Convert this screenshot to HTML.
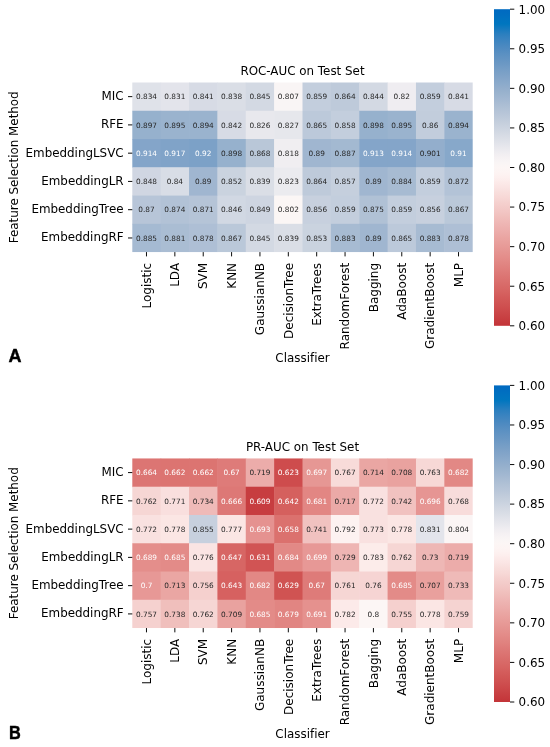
<!DOCTYPE html>
<html><head><meta charset="utf-8"><title>AUC heatmaps</title>
<style>
html,body{margin:0;padding:0;background:#fff}
svg{display:block;font-family:"DejaVu Sans","Liberation Sans",sans-serif;font-variant-ligatures:none}
</style></head><body>
<svg width="550" height="747" viewBox="0 0 550 747">
<defs><linearGradient id="cb" x1="0" y1="0" x2="0" y2="1"><stop offset="0.0000" stop-color="#006ac1"/><stop offset="0.0156" stop-color="#006dc0"/><stop offset="0.0312" stop-color="#0072c0"/><stop offset="0.0469" stop-color="#0076bf"/><stop offset="0.0625" stop-color="#167abf"/><stop offset="0.0781" stop-color="#2b7fbf"/><stop offset="0.0938" stop-color="#3983c0"/><stop offset="0.1094" stop-color="#4587c0"/><stop offset="0.1250" stop-color="#508bc1"/><stop offset="0.1406" stop-color="#5a90c2"/><stop offset="0.1562" stop-color="#6394c3"/><stop offset="0.1719" stop-color="#6b98c4"/><stop offset="0.1875" stop-color="#749dc6"/><stop offset="0.2031" stop-color="#7ca1c7"/><stop offset="0.2188" stop-color="#84a5c9"/><stop offset="0.2344" stop-color="#8baacb"/><stop offset="0.2500" stop-color="#93aecc"/><stop offset="0.2656" stop-color="#9ab3ce"/><stop offset="0.2812" stop-color="#a1b7d1"/><stop offset="0.2969" stop-color="#a9bcd3"/><stop offset="0.3125" stop-color="#b0c1d5"/><stop offset="0.3281" stop-color="#b7c5d8"/><stop offset="0.3438" stop-color="#becada"/><stop offset="0.3594" stop-color="#c5cfdd"/><stop offset="0.3750" stop-color="#ccd4e0"/><stop offset="0.3906" stop-color="#d3d9e3"/><stop offset="0.4062" stop-color="#dadee6"/><stop offset="0.4219" stop-color="#e1e3ea"/><stop offset="0.4375" stop-color="#e8e8ed"/><stop offset="0.4531" stop-color="#efedf1"/><stop offset="0.4688" stop-color="#f5f1f3"/><stop offset="0.4844" stop-color="#f9f5f5"/><stop offset="0.5000" stop-color="#fcf6f5"/><stop offset="0.5156" stop-color="#fdf4f3"/><stop offset="0.5312" stop-color="#fdf0ef"/><stop offset="0.5469" stop-color="#fceae9"/><stop offset="0.5625" stop-color="#fae4e3"/><stop offset="0.5781" stop-color="#f8dedc"/><stop offset="0.5938" stop-color="#f7d8d6"/><stop offset="0.6094" stop-color="#f5d1cf"/><stop offset="0.6250" stop-color="#f3cbc9"/><stop offset="0.6406" stop-color="#f2c5c3"/><stop offset="0.6562" stop-color="#f0bfbc"/><stop offset="0.6719" stop-color="#efb8b6"/><stop offset="0.6875" stop-color="#edb2b0"/><stop offset="0.7031" stop-color="#ecacaa"/><stop offset="0.7188" stop-color="#eaa6a3"/><stop offset="0.7344" stop-color="#e9a09d"/><stop offset="0.7500" stop-color="#e79a97"/><stop offset="0.7656" stop-color="#e59491"/><stop offset="0.7812" stop-color="#e48e8b"/><stop offset="0.7969" stop-color="#e28885"/><stop offset="0.8125" stop-color="#e0827f"/><stop offset="0.8281" stop-color="#de7b79"/><stop offset="0.8438" stop-color="#dc7573"/><stop offset="0.8594" stop-color="#da6f6d"/><stop offset="0.8750" stop-color="#d86967"/><stop offset="0.8906" stop-color="#d66361"/><stop offset="0.9062" stop-color="#d45c5b"/><stop offset="0.9219" stop-color="#d15655"/><stop offset="0.9375" stop-color="#cf5050"/><stop offset="0.9531" stop-color="#cc494a"/><stop offset="0.9688" stop-color="#c94244"/><stop offset="0.9844" stop-color="#c63b3e"/><stop offset="1.0000" stop-color="#c33438"/></linearGradient></defs>
<rect width="550" height="747" fill="#fff"/>
<g>
<rect x="132.30" y="82.50" width="28.87" height="28.77" fill="#dfe2e9"/>
<rect x="160.67" y="82.50" width="28.87" height="28.77" fill="#e3e4eb"/>
<rect x="189.03" y="82.50" width="28.87" height="28.77" fill="#d7dbe5"/>
<rect x="217.40" y="82.50" width="28.87" height="28.77" fill="#dadee6"/>
<rect x="245.77" y="82.50" width="28.87" height="28.77" fill="#d3d9e3"/>
<rect x="274.13" y="82.50" width="28.87" height="28.77" fill="#f9f5f5"/>
<rect x="302.50" y="82.50" width="28.87" height="28.77" fill="#c3cedd"/>
<rect x="330.87" y="82.50" width="28.87" height="28.77" fill="#becada"/>
<rect x="359.23" y="82.50" width="28.87" height="28.77" fill="#d3d9e3"/>
<rect x="387.60" y="82.50" width="28.87" height="28.77" fill="#efedf1"/>
<rect x="415.97" y="82.50" width="28.87" height="28.77" fill="#c3cedd"/>
<rect x="444.33" y="82.50" width="28.87" height="28.77" fill="#d7dbe5"/>
<rect x="132.30" y="110.77" width="28.87" height="28.77" fill="#96b1cd"/>
<rect x="160.67" y="110.77" width="28.87" height="28.77" fill="#9ab3ce"/>
<rect x="189.03" y="110.77" width="28.87" height="28.77" fill="#9ab3ce"/>
<rect x="217.40" y="110.77" width="28.87" height="28.77" fill="#d7dbe5"/>
<rect x="245.77" y="110.77" width="28.87" height="28.77" fill="#e8e8ed"/>
<rect x="274.13" y="110.77" width="28.87" height="28.77" fill="#e6e7ec"/>
<rect x="302.50" y="110.77" width="28.87" height="28.77" fill="#bcc9da"/>
<rect x="330.87" y="110.77" width="28.87" height="28.77" fill="#c3cedd"/>
<rect x="359.23" y="110.77" width="28.87" height="28.77" fill="#96b1cd"/>
<rect x="387.60" y="110.77" width="28.87" height="28.77" fill="#9ab3ce"/>
<rect x="415.97" y="110.77" width="28.87" height="28.77" fill="#c2cddc"/>
<rect x="444.33" y="110.77" width="28.87" height="28.77" fill="#9ab3ce"/>
<rect x="132.30" y="139.03" width="28.87" height="28.77" fill="#84a5c9"/>
<rect x="160.67" y="139.03" width="28.87" height="28.77" fill="#80a3c8"/>
<rect x="189.03" y="139.03" width="28.87" height="28.77" fill="#7ca1c7"/>
<rect x="217.40" y="139.03" width="28.87" height="28.77" fill="#96b1cd"/>
<rect x="245.77" y="139.03" width="28.87" height="28.77" fill="#b9c7d8"/>
<rect x="274.13" y="139.03" width="28.87" height="28.77" fill="#f0eef1"/>
<rect x="302.50" y="139.03" width="28.87" height="28.77" fill="#a0b6d0"/>
<rect x="330.87" y="139.03" width="28.87" height="28.77" fill="#a3b9d1"/>
<rect x="359.23" y="139.03" width="28.87" height="28.77" fill="#84a5c9"/>
<rect x="387.60" y="139.03" width="28.87" height="28.77" fill="#84a5c9"/>
<rect x="415.97" y="139.03" width="28.87" height="28.77" fill="#93aecc"/>
<rect x="444.33" y="139.03" width="28.87" height="28.77" fill="#87a8ca"/>
<rect x="132.30" y="167.30" width="28.87" height="28.77" fill="#d0d6e2"/>
<rect x="160.67" y="167.30" width="28.87" height="28.77" fill="#d8dde6"/>
<rect x="189.03" y="167.30" width="28.87" height="28.77" fill="#a0b6d0"/>
<rect x="217.40" y="167.30" width="28.87" height="28.77" fill="#cad3df"/>
<rect x="245.77" y="167.30" width="28.87" height="28.77" fill="#dadee6"/>
<rect x="274.13" y="167.30" width="28.87" height="28.77" fill="#ebebef"/>
<rect x="302.50" y="167.30" width="28.87" height="28.77" fill="#becada"/>
<rect x="330.87" y="167.30" width="28.87" height="28.77" fill="#c5cfdd"/>
<rect x="359.23" y="167.30" width="28.87" height="28.77" fill="#a0b6d0"/>
<rect x="387.60" y="167.30" width="28.87" height="28.77" fill="#a7bbd2"/>
<rect x="415.97" y="167.30" width="28.87" height="28.77" fill="#c3cedd"/>
<rect x="444.33" y="167.30" width="28.87" height="28.77" fill="#b3c3d7"/>
<rect x="132.30" y="195.57" width="28.87" height="28.77" fill="#b7c5d8"/>
<rect x="160.67" y="195.57" width="28.87" height="28.77" fill="#b2c2d6"/>
<rect x="189.03" y="195.57" width="28.87" height="28.77" fill="#b5c4d7"/>
<rect x="217.40" y="195.57" width="28.87" height="28.77" fill="#d1d8e3"/>
<rect x="245.77" y="195.57" width="28.87" height="28.77" fill="#ced5e1"/>
<rect x="274.13" y="195.57" width="28.87" height="28.77" fill="#fbf6f5"/>
<rect x="302.50" y="195.57" width="28.87" height="28.77" fill="#c7d0de"/>
<rect x="330.87" y="195.57" width="28.87" height="28.77" fill="#c3cedd"/>
<rect x="359.23" y="195.57" width="28.87" height="28.77" fill="#b0c1d5"/>
<rect x="387.60" y="195.57" width="28.87" height="28.77" fill="#c3cedd"/>
<rect x="415.97" y="195.57" width="28.87" height="28.77" fill="#c7d0de"/>
<rect x="444.33" y="195.57" width="28.87" height="28.77" fill="#bac8d9"/>
<rect x="132.30" y="223.83" width="28.87" height="28.77" fill="#a5bad2"/>
<rect x="160.67" y="223.83" width="28.87" height="28.77" fill="#aabdd3"/>
<rect x="189.03" y="223.83" width="28.87" height="28.77" fill="#aebfd5"/>
<rect x="217.40" y="223.83" width="28.87" height="28.77" fill="#bac8d9"/>
<rect x="245.77" y="223.83" width="28.87" height="28.77" fill="#d3d9e3"/>
<rect x="274.13" y="223.83" width="28.87" height="28.77" fill="#dadee6"/>
<rect x="302.50" y="223.83" width="28.87" height="28.77" fill="#cad3df"/>
<rect x="330.87" y="223.83" width="28.87" height="28.77" fill="#a7bbd2"/>
<rect x="359.23" y="223.83" width="28.87" height="28.77" fill="#a0b6d0"/>
<rect x="387.60" y="223.83" width="28.87" height="28.77" fill="#bcc9da"/>
<rect x="415.97" y="223.83" width="28.87" height="28.77" fill="#a7bbd2"/>
<rect x="444.33" y="223.83" width="28.87" height="28.77" fill="#aebfd5"/>
</g>
<rect x="472.70" y="81.50" width="2" height="172.60" fill="#fff"/>
<rect x="131.30" y="252.10" width="343.40" height="2" fill="#fff"/>
<g font-size="7.35" text-anchor="middle">
<text x="146.48" y="99.32" fill="#262626">0.834</text>
<text x="174.85" y="99.32" fill="#262626">0.831</text>
<text x="203.22" y="99.32" fill="#262626">0.841</text>
<text x="231.58" y="99.32" fill="#262626">0.838</text>
<text x="259.95" y="99.32" fill="#262626">0.845</text>
<text x="288.32" y="99.32" fill="#262626">0.807</text>
<text x="316.68" y="99.32" fill="#262626">0.859</text>
<text x="345.05" y="99.32" fill="#262626">0.864</text>
<text x="373.42" y="99.32" fill="#262626">0.844</text>
<text x="401.78" y="99.32" fill="#262626">0.82</text>
<text x="430.15" y="99.32" fill="#262626">0.859</text>
<text x="458.52" y="99.32" fill="#262626">0.841</text>
<text x="146.48" y="127.58" fill="#262626">0.897</text>
<text x="174.85" y="127.58" fill="#262626">0.895</text>
<text x="203.22" y="127.58" fill="#262626">0.894</text>
<text x="231.58" y="127.58" fill="#262626">0.842</text>
<text x="259.95" y="127.58" fill="#262626">0.826</text>
<text x="288.32" y="127.58" fill="#262626">0.827</text>
<text x="316.68" y="127.58" fill="#262626">0.865</text>
<text x="345.05" y="127.58" fill="#262626">0.858</text>
<text x="373.42" y="127.58" fill="#262626">0.898</text>
<text x="401.78" y="127.58" fill="#262626">0.895</text>
<text x="430.15" y="127.58" fill="#262626">0.86</text>
<text x="458.52" y="127.58" fill="#262626">0.894</text>
<text x="146.48" y="155.85" fill="#fff">0.914</text>
<text x="174.85" y="155.85" fill="#fff">0.917</text>
<text x="203.22" y="155.85" fill="#fff">0.92</text>
<text x="231.58" y="155.85" fill="#262626">0.898</text>
<text x="259.95" y="155.85" fill="#262626">0.868</text>
<text x="288.32" y="155.85" fill="#262626">0.818</text>
<text x="316.68" y="155.85" fill="#262626">0.89</text>
<text x="345.05" y="155.85" fill="#262626">0.887</text>
<text x="373.42" y="155.85" fill="#fff">0.913</text>
<text x="401.78" y="155.85" fill="#fff">0.914</text>
<text x="430.15" y="155.85" fill="#262626">0.901</text>
<text x="458.52" y="155.85" fill="#fff">0.91</text>
<text x="146.48" y="184.12" fill="#262626">0.848</text>
<text x="174.85" y="184.12" fill="#262626">0.84</text>
<text x="203.22" y="184.12" fill="#262626">0.89</text>
<text x="231.58" y="184.12" fill="#262626">0.852</text>
<text x="259.95" y="184.12" fill="#262626">0.839</text>
<text x="288.32" y="184.12" fill="#262626">0.823</text>
<text x="316.68" y="184.12" fill="#262626">0.864</text>
<text x="345.05" y="184.12" fill="#262626">0.857</text>
<text x="373.42" y="184.12" fill="#262626">0.89</text>
<text x="401.78" y="184.12" fill="#262626">0.884</text>
<text x="430.15" y="184.12" fill="#262626">0.859</text>
<text x="458.52" y="184.12" fill="#262626">0.872</text>
<text x="146.48" y="212.38" fill="#262626">0.87</text>
<text x="174.85" y="212.38" fill="#262626">0.874</text>
<text x="203.22" y="212.38" fill="#262626">0.871</text>
<text x="231.58" y="212.38" fill="#262626">0.846</text>
<text x="259.95" y="212.38" fill="#262626">0.849</text>
<text x="288.32" y="212.38" fill="#262626">0.802</text>
<text x="316.68" y="212.38" fill="#262626">0.856</text>
<text x="345.05" y="212.38" fill="#262626">0.859</text>
<text x="373.42" y="212.38" fill="#262626">0.875</text>
<text x="401.78" y="212.38" fill="#262626">0.859</text>
<text x="430.15" y="212.38" fill="#262626">0.856</text>
<text x="458.52" y="212.38" fill="#262626">0.867</text>
<text x="146.48" y="240.65" fill="#262626">0.885</text>
<text x="174.85" y="240.65" fill="#262626">0.881</text>
<text x="203.22" y="240.65" fill="#262626">0.878</text>
<text x="231.58" y="240.65" fill="#262626">0.867</text>
<text x="259.95" y="240.65" fill="#262626">0.845</text>
<text x="288.32" y="240.65" fill="#262626">0.839</text>
<text x="316.68" y="240.65" fill="#262626">0.853</text>
<text x="345.05" y="240.65" fill="#262626">0.883</text>
<text x="373.42" y="240.65" fill="#262626">0.89</text>
<text x="401.78" y="240.65" fill="#262626">0.865</text>
<text x="430.15" y="240.65" fill="#262626">0.883</text>
<text x="458.52" y="240.65" fill="#262626">0.878</text>
</g>
<path d="M128.00 96.63H132.30M128.00 124.90H132.30M128.00 153.17H132.30M128.00 181.43H132.30M128.00 209.70H132.30M128.00 237.97H132.30M146.48 252.10v4.30M174.85 252.10v4.30M203.22 252.10v4.30M231.58 252.10v4.30M259.95 252.10v4.30M288.32 252.10v4.30M316.68 252.10v4.30M345.05 252.10v4.30M373.42 252.10v4.30M401.78 252.10v4.30M430.15 252.10v4.30M458.52 252.10v4.30" stroke="#000" stroke-width="0.96" fill="none"/>
<g font-size="11.9" text-anchor="end">
<text x="123.60" y="100.08">MIC</text>
<text x="123.60" y="128.34">RFE</text>
<text x="123.60" y="156.61">EmbeddingLSVC</text>
<text x="123.60" y="184.88">EmbeddingLR</text>
<text x="123.60" y="213.14">EmbeddingTree</text>
<text x="123.60" y="241.41">EmbeddingRF</text>
</g>
<g font-size="12" text-anchor="end">
<text transform="translate(150.68 262.90) rotate(-90)">Logistic</text>
<text transform="translate(179.05 262.90) rotate(-90)">LDA</text>
<text transform="translate(207.42 262.90) rotate(-90)">SVM</text>
<text transform="translate(235.78 262.90) rotate(-90)">KNN</text>
<text transform="translate(264.15 262.90) rotate(-90)">GaussianNB</text>
<text transform="translate(292.52 262.90) rotate(-90)">DecisionTree</text>
<text transform="translate(320.88 262.90) rotate(-90)">ExtraTrees</text>
<text transform="translate(349.25 262.90) rotate(-90)">RandomForest</text>
<text transform="translate(377.62 262.90) rotate(-90)">Bagging</text>
<text transform="translate(405.98 262.90) rotate(-90)">AdaBoost</text>
<text transform="translate(434.35 262.90) rotate(-90)">GradientBoost</text>
<text transform="translate(462.72 262.90) rotate(-90)">MLP</text>
</g>
<text font-size="11.9" text-anchor="middle" transform="translate(18.40 167.30) rotate(-90)">Feature Selection Method</text>
<text font-size="11.9" text-anchor="middle" x="302.50" y="361.80">Classifier</text>
<text font-size="11.9" text-anchor="middle" x="302.50" y="75.20">ROC-AUC on Test Set</text>
<rect x="494.00" y="9.20" width="16.00" height="316.60" fill="url(#cb)"/>
<g font-size="11.9">
<text x="518.60" y="13.54">1.00</text>
<text x="518.60" y="53.12">0.95</text>
<text x="518.60" y="92.69">0.90</text>
<text x="518.60" y="132.27">0.85</text>
<text x="518.60" y="171.84">0.80</text>
<text x="518.60" y="211.42">0.75</text>
<text x="518.60" y="250.99">0.70</text>
<text x="518.60" y="290.57">0.65</text>
<text x="518.60" y="330.14">0.60</text>
</g>
<path d="M510.00 9.20h4.30M510.00 48.78h4.30M510.00 88.35h4.30M510.00 127.93h4.30M510.00 167.50h4.30M510.00 207.07h4.30M510.00 246.65h4.30M510.00 286.23h4.30M510.00 325.80h4.30" stroke="#000" stroke-width="0.96" fill="none"/>
<text transform="translate(8.6 361.9) scale(0.95 1)" font-family="'Liberation Sans', sans-serif" font-weight="bold" font-size="19.0" fill="#000" stroke="#000" stroke-width="0.45" stroke-linejoin="round">A</text>
<g>
<rect x="132.30" y="458.45" width="28.87" height="28.77" fill="#dc7573"/>
<rect x="160.67" y="458.45" width="28.87" height="28.77" fill="#dc7471"/>
<rect x="189.03" y="458.45" width="28.87" height="28.77" fill="#dc7471"/>
<rect x="217.40" y="458.45" width="28.87" height="28.77" fill="#de7b79"/>
<rect x="245.77" y="458.45" width="28.87" height="28.77" fill="#ecacaa"/>
<rect x="274.13" y="458.45" width="28.87" height="28.77" fill="#ce4c4d"/>
<rect x="302.50" y="458.45" width="28.87" height="28.77" fill="#e69794"/>
<rect x="330.87" y="458.45" width="28.87" height="28.77" fill="#f8dbd9"/>
<rect x="359.23" y="458.45" width="28.87" height="28.77" fill="#eaa6a3"/>
<rect x="387.60" y="458.45" width="28.87" height="28.77" fill="#e9a29f"/>
<rect x="415.97" y="458.45" width="28.87" height="28.77" fill="#f7d8d6"/>
<rect x="444.33" y="458.45" width="28.87" height="28.77" fill="#e28885"/>
<rect x="132.30" y="486.72" width="28.87" height="28.77" fill="#f6d6d4"/>
<rect x="160.67" y="486.72" width="28.87" height="28.77" fill="#f9dfde"/>
<rect x="189.03" y="486.72" width="28.87" height="28.77" fill="#efbab8"/>
<rect x="217.40" y="486.72" width="28.87" height="28.77" fill="#dd7876"/>
<rect x="245.77" y="486.72" width="28.87" height="28.77" fill="#c73d40"/>
<rect x="274.13" y="486.72" width="28.87" height="28.77" fill="#d5605e"/>
<rect x="302.50" y="486.72" width="28.87" height="28.77" fill="#e28683"/>
<rect x="330.87" y="486.72" width="28.87" height="28.77" fill="#eba9a7"/>
<rect x="359.23" y="486.72" width="28.87" height="28.77" fill="#f9e1e0"/>
<rect x="387.60" y="486.72" width="28.87" height="28.77" fill="#f1c2c0"/>
<rect x="415.97" y="486.72" width="28.87" height="28.77" fill="#e69593"/>
<rect x="444.33" y="486.72" width="28.87" height="28.77" fill="#f8dcdb"/>
<rect x="132.30" y="514.98" width="28.87" height="28.77" fill="#f9e1e0"/>
<rect x="160.67" y="514.98" width="28.87" height="28.77" fill="#fbe6e4"/>
<rect x="189.03" y="514.98" width="28.87" height="28.77" fill="#c7d0de"/>
<rect x="217.40" y="514.98" width="28.87" height="28.77" fill="#fbe6e4"/>
<rect x="245.77" y="514.98" width="28.87" height="28.77" fill="#e59290"/>
<rect x="274.13" y="514.98" width="28.87" height="28.77" fill="#db716e"/>
<rect x="302.50" y="514.98" width="28.87" height="28.77" fill="#f1c2c0"/>
<rect x="330.87" y="514.98" width="28.87" height="28.77" fill="#fdf2f1"/>
<rect x="359.23" y="514.98" width="28.87" height="28.77" fill="#f9e1e0"/>
<rect x="387.60" y="514.98" width="28.87" height="28.77" fill="#fbe6e4"/>
<rect x="415.97" y="514.98" width="28.87" height="28.77" fill="#e3e4eb"/>
<rect x="444.33" y="514.98" width="28.87" height="28.77" fill="#fbf5f5"/>
<rect x="132.30" y="543.25" width="28.87" height="28.77" fill="#e48e8b"/>
<rect x="160.67" y="543.25" width="28.87" height="28.77" fill="#e38b88"/>
<rect x="189.03" y="543.25" width="28.87" height="28.77" fill="#fae4e3"/>
<rect x="217.40" y="543.25" width="28.87" height="28.77" fill="#d76664"/>
<rect x="245.77" y="543.25" width="28.87" height="28.77" fill="#d15454"/>
<rect x="274.13" y="543.25" width="28.87" height="28.77" fill="#e28986"/>
<rect x="302.50" y="543.25" width="28.87" height="28.77" fill="#e79896"/>
<rect x="330.87" y="543.25" width="28.87" height="28.77" fill="#eeb5b3"/>
<rect x="359.23" y="543.25" width="28.87" height="28.77" fill="#fcecea"/>
<rect x="387.60" y="543.25" width="28.87" height="28.77" fill="#f6d6d4"/>
<rect x="415.97" y="543.25" width="28.87" height="28.77" fill="#eeb7b5"/>
<rect x="444.33" y="543.25" width="28.87" height="28.77" fill="#ecacaa"/>
<rect x="132.30" y="571.52" width="28.87" height="28.77" fill="#e79896"/>
<rect x="160.67" y="571.52" width="28.87" height="28.77" fill="#eaa6a3"/>
<rect x="189.03" y="571.52" width="28.87" height="28.77" fill="#f5d0ce"/>
<rect x="217.40" y="571.52" width="28.87" height="28.77" fill="#d66160"/>
<rect x="245.77" y="571.52" width="28.87" height="28.77" fill="#e28885"/>
<rect x="274.13" y="571.52" width="28.87" height="28.77" fill="#d05352"/>
<rect x="302.50" y="571.52" width="28.87" height="28.77" fill="#de7b79"/>
<rect x="330.87" y="571.52" width="28.87" height="28.77" fill="#f6d6d4"/>
<rect x="359.23" y="571.52" width="28.87" height="28.77" fill="#f6d4d3"/>
<rect x="387.60" y="571.52" width="28.87" height="28.77" fill="#e38b88"/>
<rect x="415.97" y="571.52" width="28.87" height="28.77" fill="#e9a09d"/>
<rect x="444.33" y="571.52" width="28.87" height="28.77" fill="#efbab8"/>
<rect x="132.30" y="599.78" width="28.87" height="28.77" fill="#f5d1cf"/>
<rect x="160.67" y="599.78" width="28.87" height="28.77" fill="#f0bfbc"/>
<rect x="189.03" y="599.78" width="28.87" height="28.77" fill="#f6d6d4"/>
<rect x="217.40" y="599.78" width="28.87" height="28.77" fill="#e9a29f"/>
<rect x="245.77" y="599.78" width="28.87" height="28.77" fill="#e38b88"/>
<rect x="274.13" y="599.78" width="28.87" height="28.77" fill="#e18582"/>
<rect x="302.50" y="599.78" width="28.87" height="28.77" fill="#e5918e"/>
<rect x="330.87" y="599.78" width="28.87" height="28.77" fill="#fceae9"/>
<rect x="359.23" y="599.78" width="28.87" height="28.77" fill="#fcf6f5"/>
<rect x="387.60" y="599.78" width="28.87" height="28.77" fill="#f5d0ce"/>
<rect x="415.97" y="599.78" width="28.87" height="28.77" fill="#fbe6e4"/>
<rect x="444.33" y="599.78" width="28.87" height="28.77" fill="#f5d3d1"/>
</g>
<rect x="472.70" y="457.45" width="2" height="172.60" fill="#fff"/>
<rect x="131.30" y="628.05" width="343.40" height="2" fill="#fff"/>
<g font-size="7.35" text-anchor="middle">
<text x="146.48" y="475.27" fill="#fff">0.664</text>
<text x="174.85" y="475.27" fill="#fff">0.662</text>
<text x="203.22" y="475.27" fill="#fff">0.662</text>
<text x="231.58" y="475.27" fill="#fff">0.67</text>
<text x="259.95" y="475.27" fill="#262626">0.719</text>
<text x="288.32" y="475.27" fill="#fff">0.623</text>
<text x="316.68" y="475.27" fill="#fff">0.697</text>
<text x="345.05" y="475.27" fill="#262626">0.767</text>
<text x="373.42" y="475.27" fill="#262626">0.714</text>
<text x="401.78" y="475.27" fill="#262626">0.708</text>
<text x="430.15" y="475.27" fill="#262626">0.763</text>
<text x="458.52" y="475.27" fill="#fff">0.682</text>
<text x="146.48" y="503.53" fill="#262626">0.762</text>
<text x="174.85" y="503.53" fill="#262626">0.771</text>
<text x="203.22" y="503.53" fill="#262626">0.734</text>
<text x="231.58" y="503.53" fill="#fff">0.666</text>
<text x="259.95" y="503.53" fill="#fff">0.609</text>
<text x="288.32" y="503.53" fill="#fff">0.642</text>
<text x="316.68" y="503.53" fill="#fff">0.681</text>
<text x="345.05" y="503.53" fill="#262626">0.717</text>
<text x="373.42" y="503.53" fill="#262626">0.772</text>
<text x="401.78" y="503.53" fill="#262626">0.742</text>
<text x="430.15" y="503.53" fill="#fff">0.696</text>
<text x="458.52" y="503.53" fill="#262626">0.768</text>
<text x="146.48" y="531.80" fill="#262626">0.772</text>
<text x="174.85" y="531.80" fill="#262626">0.778</text>
<text x="203.22" y="531.80" fill="#262626">0.855</text>
<text x="231.58" y="531.80" fill="#262626">0.777</text>
<text x="259.95" y="531.80" fill="#fff">0.693</text>
<text x="288.32" y="531.80" fill="#fff">0.658</text>
<text x="316.68" y="531.80" fill="#262626">0.741</text>
<text x="345.05" y="531.80" fill="#262626">0.792</text>
<text x="373.42" y="531.80" fill="#262626">0.773</text>
<text x="401.78" y="531.80" fill="#262626">0.778</text>
<text x="430.15" y="531.80" fill="#262626">0.831</text>
<text x="458.52" y="531.80" fill="#262626">0.804</text>
<text x="146.48" y="560.07" fill="#fff">0.689</text>
<text x="174.85" y="560.07" fill="#fff">0.685</text>
<text x="203.22" y="560.07" fill="#262626">0.776</text>
<text x="231.58" y="560.07" fill="#fff">0.647</text>
<text x="259.95" y="560.07" fill="#fff">0.631</text>
<text x="288.32" y="560.07" fill="#fff">0.684</text>
<text x="316.68" y="560.07" fill="#fff">0.699</text>
<text x="345.05" y="560.07" fill="#262626">0.729</text>
<text x="373.42" y="560.07" fill="#262626">0.783</text>
<text x="401.78" y="560.07" fill="#262626">0.762</text>
<text x="430.15" y="560.07" fill="#262626">0.73</text>
<text x="458.52" y="560.07" fill="#262626">0.719</text>
<text x="146.48" y="588.33" fill="#fff">0.7</text>
<text x="174.85" y="588.33" fill="#262626">0.713</text>
<text x="203.22" y="588.33" fill="#262626">0.756</text>
<text x="231.58" y="588.33" fill="#fff">0.643</text>
<text x="259.95" y="588.33" fill="#fff">0.682</text>
<text x="288.32" y="588.33" fill="#fff">0.629</text>
<text x="316.68" y="588.33" fill="#fff">0.67</text>
<text x="345.05" y="588.33" fill="#262626">0.761</text>
<text x="373.42" y="588.33" fill="#262626">0.76</text>
<text x="401.78" y="588.33" fill="#fff">0.685</text>
<text x="430.15" y="588.33" fill="#262626">0.707</text>
<text x="458.52" y="588.33" fill="#262626">0.733</text>
<text x="146.48" y="616.60" fill="#262626">0.757</text>
<text x="174.85" y="616.60" fill="#262626">0.738</text>
<text x="203.22" y="616.60" fill="#262626">0.762</text>
<text x="231.58" y="616.60" fill="#262626">0.709</text>
<text x="259.95" y="616.60" fill="#fff">0.685</text>
<text x="288.32" y="616.60" fill="#fff">0.679</text>
<text x="316.68" y="616.60" fill="#fff">0.691</text>
<text x="345.05" y="616.60" fill="#262626">0.782</text>
<text x="373.42" y="616.60" fill="#262626">0.8</text>
<text x="401.78" y="616.60" fill="#262626">0.755</text>
<text x="430.15" y="616.60" fill="#262626">0.778</text>
<text x="458.52" y="616.60" fill="#262626">0.759</text>
</g>
<path d="M128.00 472.58H132.30M128.00 500.85H132.30M128.00 529.12H132.30M128.00 557.38H132.30M128.00 585.65H132.30M128.00 613.92H132.30M146.48 628.05v4.30M174.85 628.05v4.30M203.22 628.05v4.30M231.58 628.05v4.30M259.95 628.05v4.30M288.32 628.05v4.30M316.68 628.05v4.30M345.05 628.05v4.30M373.42 628.05v4.30M401.78 628.05v4.30M430.15 628.05v4.30M458.52 628.05v4.30" stroke="#000" stroke-width="0.96" fill="none"/>
<g font-size="11.9" text-anchor="end">
<text x="123.60" y="476.03">MIC</text>
<text x="123.60" y="504.29">RFE</text>
<text x="123.60" y="532.56">EmbeddingLSVC</text>
<text x="123.60" y="560.83">EmbeddingLR</text>
<text x="123.60" y="589.09">EmbeddingTree</text>
<text x="123.60" y="617.36">EmbeddingRF</text>
</g>
<g font-size="12" text-anchor="end">
<text transform="translate(150.68 638.85) rotate(-90)">Logistic</text>
<text transform="translate(179.05 638.85) rotate(-90)">LDA</text>
<text transform="translate(207.42 638.85) rotate(-90)">SVM</text>
<text transform="translate(235.78 638.85) rotate(-90)">KNN</text>
<text transform="translate(264.15 638.85) rotate(-90)">GaussianNB</text>
<text transform="translate(292.52 638.85) rotate(-90)">DecisionTree</text>
<text transform="translate(320.88 638.85) rotate(-90)">ExtraTrees</text>
<text transform="translate(349.25 638.85) rotate(-90)">RandomForest</text>
<text transform="translate(377.62 638.85) rotate(-90)">Bagging</text>
<text transform="translate(405.98 638.85) rotate(-90)">AdaBoost</text>
<text transform="translate(434.35 638.85) rotate(-90)">GradientBoost</text>
<text transform="translate(462.72 638.85) rotate(-90)">MLP</text>
</g>
<text font-size="11.9" text-anchor="middle" transform="translate(18.40 543.25) rotate(-90)">Feature Selection Method</text>
<text font-size="11.9" text-anchor="middle" x="302.50" y="737.75">Classifier</text>
<text font-size="11.9" text-anchor="middle" x="302.50" y="451.15">PR-AUC on Test Set</text>
<rect x="494.00" y="385.40" width="16.00" height="316.60" fill="url(#cb)"/>
<g font-size="11.9">
<text x="518.60" y="389.74">1.00</text>
<text x="518.60" y="429.32">0.95</text>
<text x="518.60" y="468.89">0.90</text>
<text x="518.60" y="508.47">0.85</text>
<text x="518.60" y="548.04">0.80</text>
<text x="518.60" y="587.62">0.75</text>
<text x="518.60" y="627.19">0.70</text>
<text x="518.60" y="666.77">0.65</text>
<text x="518.60" y="706.34">0.60</text>
</g>
<path d="M510.00 385.40h4.30M510.00 424.97h4.30M510.00 464.55h4.30M510.00 504.12h4.30M510.00 543.70h4.30M510.00 583.27h4.30M510.00 622.85h4.30M510.00 662.42h4.30M510.00 702.00h4.30" stroke="#000" stroke-width="0.96" fill="none"/>
<text transform="translate(8.9 738.5) scale(0.86 1)" font-family="'Liberation Sans', sans-serif" font-weight="bold" font-size="19.0" fill="#000" stroke="#000" stroke-width="0.45" stroke-linejoin="round">B</text>
</svg>
</body></html>
